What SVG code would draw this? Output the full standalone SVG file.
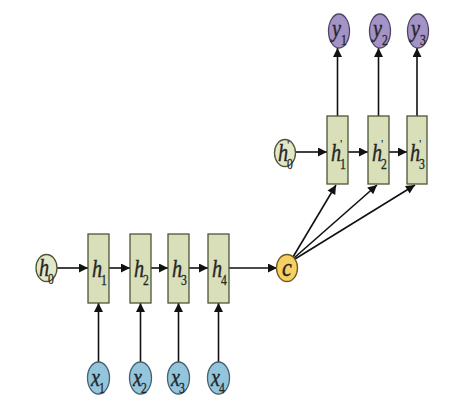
<svg xmlns="http://www.w3.org/2000/svg" width="474" height="412" viewBox="0 0 474 412">
<defs>
<marker id="ah" viewBox="0 0 10 10" refX="10" refY="5" markerWidth="11" markerHeight="9" markerUnits="userSpaceOnUse" orient="auto">
<path d="M0,0 L10,5 L0,10 z" fill="#111"/>
</marker>
</defs>
<style>
.box{fill:#d8dfb9;stroke:#4e5538;stroke-width:1.3}
.hc{fill:#e2e7c8;stroke:#4e5538;stroke-width:1.3}
.xc{fill:#93c5dd;stroke:#44606e;stroke-width:1.3}
.yc{fill:#a393c6;stroke:#4f4466;stroke-width:1.3}
.cc{fill:#f6d063;stroke:#6c5a1e;stroke-width:1.3}
.ln{stroke:#111;stroke-width:1.6;fill:none;marker-end:url(#ah)}
.t{font-family:"Liberation Serif",serif;font-style:italic;font-size:26px;fill:#262626;stroke:#262626;stroke-width:0.4}
.s{font-family:"Liberation Serif",serif;font-size:15px;fill:#262626;stroke:#262626;stroke-width:0.3}
.p{font-family:"Liberation Serif",serif;font-size:13px;fill:#262626}
</style>
<rect width="474" height="412" fill="#fff"/>
<g id="connectors">
<line class="ln" x1="57" y1="268" x2="88" y2="268"/>
<line class="ln" x1="109" y1="268" x2="130" y2="268"/>
<line class="ln" x1="151" y1="268" x2="168" y2="268"/>
<line class="ln" x1="189" y1="268" x2="208" y2="268"/>
<line class="ln" x1="229" y1="268" x2="277" y2="268"/>
<line class="ln" x1="98.5" y1="362" x2="98.5" y2="303"/>
<line class="ln" x1="140.5" y1="362" x2="140.5" y2="303"/>
<line class="ln" x1="178.5" y1="362" x2="178.5" y2="303"/>
<line class="ln" x1="218.5" y1="362" x2="218.5" y2="303"/>
<line class="ln" x1="295" y1="152" x2="327" y2="152"/>
<line class="ln" x1="348" y1="152" x2="368" y2="152"/>
<line class="ln" x1="389" y1="152" x2="407" y2="152"/>
<line class="ln" x1="293" y1="257" x2="336" y2="185"/>
<line class="ln" x1="294" y1="258" x2="377" y2="185"/>
<line class="ln" x1="295" y1="259" x2="415" y2="185"/>
<line class="ln" x1="337.5" y1="116" x2="337.5" y2="48"/>
<line class="ln" x1="378.5" y1="116" x2="378.5" y2="48"/>
<line class="ln" x1="417" y1="116" x2="417" y2="48"/>
</g>
<g id="h0"><ellipse class="hc" cx="46.5" cy="268" rx="10.5" ry="13.5"/><text class="t" transform="translate(39,276) scale(0.78,1)">h</text><text class="s" transform="translate(48,284) scale(0.78,1)">0</text></g>
<g id="h1"><rect class="box" x="88" y="234" width="21" height="69"/><text class="t" transform="translate(92,277) scale(0.78,1)">h</text><text class="s" transform="translate(101,285) scale(0.78,1)">1</text></g>
<g id="h2"><rect class="box" x="130" y="234" width="21" height="69"/><text class="t" transform="translate(134,277) scale(0.78,1)">h</text><text class="s" transform="translate(143,285) scale(0.78,1)">2</text></g>
<g id="h3"><rect class="box" x="168" y="234" width="21" height="69"/><text class="t" transform="translate(172,277) scale(0.78,1)">h</text><text class="s" transform="translate(181,285) scale(0.78,1)">3</text></g>
<g id="h4"><rect class="box" x="208" y="234" width="21" height="69"/><text class="t" transform="translate(212,277) scale(0.78,1)">h</text><text class="s" transform="translate(221,285) scale(0.78,1)">4</text></g>
<g id="x1"><ellipse class="xc" cx="98.5" cy="378" rx="11" ry="16"/><text class="t" transform="translate(91,386) scale(0.78,1)">x</text><text class="s" transform="translate(99,393) scale(0.78,1)">1</text></g>
<g id="x2"><ellipse class="xc" cx="140.5" cy="378" rx="11" ry="16"/><text class="t" transform="translate(133,386) scale(0.78,1)">x</text><text class="s" transform="translate(141,393) scale(0.78,1)">2</text></g>
<g id="x3"><ellipse class="xc" cx="178.5" cy="378" rx="11" ry="16"/><text class="t" transform="translate(171,386) scale(0.78,1)">x</text><text class="s" transform="translate(179,393) scale(0.78,1)">3</text></g>
<g id="x4"><ellipse class="xc" cx="218.5" cy="378" rx="11" ry="16"/><text class="t" transform="translate(211,386) scale(0.78,1)">x</text><text class="s" transform="translate(219,393) scale(0.78,1)">4</text></g>
<g id="c"><ellipse class="cc" cx="287" cy="268" rx="10.5" ry="13.5"/><text class="t" transform="translate(282,276) scale(0.85,1)">c</text></g>
<g id="h0p"><ellipse class="hc" cx="285" cy="153" rx="10.5" ry="13.5"/><text class="t" transform="translate(278,161) scale(0.78,1)">h</text><text class="p" x="287" y="149">'</text><text class="s" transform="translate(287,169) scale(0.78,1)">0</text></g>
<g id="h1p"><rect class="box" x="327" y="116" width="21" height="68"/><text class="t" transform="translate(331,161) scale(0.78,1)">h</text><text class="p" x="340" y="148">'</text><text class="s" transform="translate(340,169) scale(0.78,1)">1</text></g>
<g id="h2p"><rect class="box" x="368" y="116" width="21" height="68"/><text class="t" transform="translate(372,161) scale(0.78,1)">h</text><text class="p" x="381" y="148">'</text><text class="s" transform="translate(381,169) scale(0.78,1)">2</text></g>
<g id="h3p"><rect class="box" x="407" y="116" width="20" height="68"/><text class="t" transform="translate(410,161) scale(0.78,1)">h</text><text class="p" x="419" y="148">'</text><text class="s" transform="translate(419,169) scale(0.78,1)">3</text></g>
<g id="y1"><ellipse class="yc" cx="339" cy="31" rx="10.5" ry="17"/><text class="t" transform="translate(332,37) scale(0.78,1)">y</text><text class="s" transform="translate(341,45) scale(0.78,1)">1</text></g>
<g id="y2"><ellipse class="yc" cx="380" cy="31" rx="10.5" ry="17"/><text class="t" transform="translate(373,37) scale(0.78,1)">y</text><text class="s" transform="translate(382,45) scale(0.78,1)">2</text></g>
<g id="y3"><ellipse class="yc" cx="418" cy="31" rx="10.5" ry="17"/><text class="t" transform="translate(411,37) scale(0.78,1)">y</text><text class="s" transform="translate(420,45) scale(0.78,1)">3</text></g>
</svg>
